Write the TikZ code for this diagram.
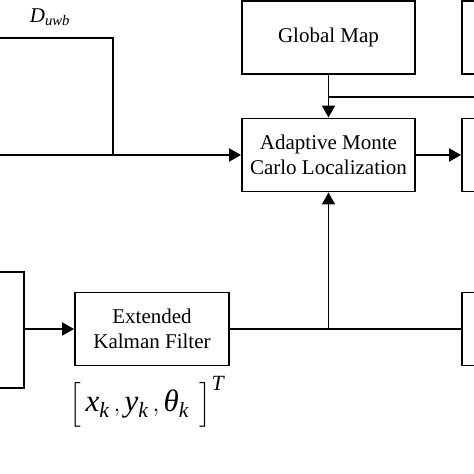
\documentclass[tikz,border=0pt]{standalone}
\usepackage{amsmath}
\usepackage{fontspec}
\setmainfont{Liberation Serif}
\usetikzlibrary{arrows.meta,positioning}

\begin{document}
\begin{tikzpicture}[x=1pt,y=-1pt,line width=1.9pt,
				block/.style = {rectangle,draw,inner sep=0pt,minimum width=173pt,minimum height=73pt,
					align=center,font=\fontsize{21}{25}\selectfont},
				cut block/.style = {rectangle,draw,inner sep=0pt,minimum width=60pt,minimum height=73pt},
				arr/.style = {-{Triangle[length=12pt,width=13pt]}}]
				
				\clip (0,0) rectangle (474,474);
				
				\node[block] at (328.5,37.5) (map) {Global Map};
				\node[block] at (328.5,155) (amcl) {Adaptive Monte\\Carlo Localization};
				\node[block,minimum width=154pt] at (152,329) (ekf) {Extended\\Kalman Filter};
				
				\node[cut block] at (492,37.5) (out1) {};
				\node[cut block] at (492,155) (out2) {};
				\node[cut block] at (492,329) (out3) {};
				\node[cut block,minimum height=116pt] at (-6,330) (imu) {};
				
				\coordinate (j1) at (map.south |- 0,97);
				\coordinate (j2) at (amcl.south |- ekf.east);
				\coordinate (uin) at (-5,155);
				\coordinate (dw) at (-5,38);
				\coordinate (dj) at (113,155);
				\coordinate (mapin) at (480,97);
				
				\node at (50,17) (duwb) {\fontsize{21}{26}\selectfont $\mathit{D}_{\mathit{uwb}}$};
				\node at (147,402) (state) {\fontsize{31}{36}\selectfont
					$\Big[\,\mathit{x}_{\mathit{k}}\,, \mathit{y}_{\mathit{k}}\,, \text{\itshape θ}_{\mathit{k}}\;\,\Big]^{\mathit{T}}$};
				
				\draw[arr] (map) -- (amcl);
				\draw (j1) -- (mapin);
				\draw[arr] (uin) -- (amcl.west);
				\draw (dw) -| (dj);
				\draw[arr] (amcl) -- (out2);
				\draw[arr] (imu.east |- ekf.west) -- (ekf.west);
				\draw (ekf.east) -- (out3.west |- ekf.east);
				\draw[arr] (j2) -- (amcl.south);
				\end{tikzpicture}
\end{document}
